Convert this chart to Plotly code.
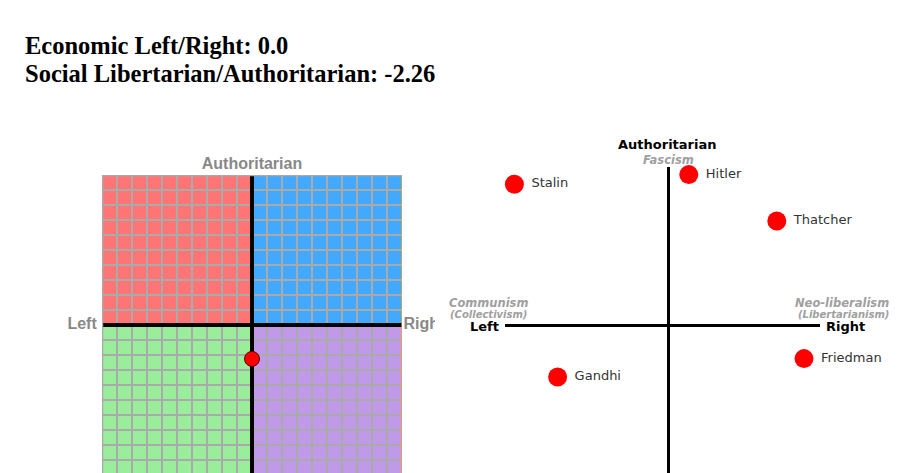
import plotly.graph_objects as go

W, H = 902, 473

# ---- data ----
econ_score = [0.0]
social_score = [-2.26]

people = ["Stalin", "Hitler", "Thatcher", "Gandhi", "Friedman"]
people_x = [-9.6, 1.3, 6.8, -6.9, 8.5]
people_y = [8.8, 9.4, 6.5, -3.25, -2.1]

title_lines = ["Economic Left/Right: 0.0", "Social Libertarian/Authoritarian: -2.26"]


def fx(px):
    return px / W


def fy(py):
    return 1 - py / H


fig = go.Figure()

# ---- left compass (grid) ----
fig.add_trace(go.Scatter(
    x=econ_score, y=social_score, mode="markers",
    marker=dict(size=15, color="#ff0000", line=dict(color="#5a0000", width=1)),
    cliponaxis=False, hoverinfo="skip", xaxis="x", yaxis="y", showlegend=False))

# ---- left labels (clipped subplot) ----
fig.add_trace(go.Scatter(
    x=[0, -11.33, 10.1], y=[10.67, 0, 0], mode="text",
    text=["Authoritarian", "Left", "Right"],
    textposition=["middle center", "middle center", "middle right"],
    textfont=dict(family="Liberation Sans", size=16, color="#888888", weight="bold"),
    cliponaxis=True, hoverinfo="skip", xaxis="x3", yaxis="y3", showlegend=False))

# ---- right chart ----
fig.add_trace(go.Scatter(
    x=people_x, y=people_y, mode="markers+text", text=people,
    texttemplate=" %{text}",
    textposition="middle right",
    textfont=dict(family="DejaVu Sans", size=13, color="#333333"),
    marker=dict(size=19, color="#ff0000", line=dict(width=0)),
    cliponaxis=False, hoverinfo="skip", xaxis="x2", yaxis="y2", showlegend=False))

quad = [
    (-10, 0, 0, 10, "#ff7575"),
    (0, 10, 0, 10, "#42a9ff"),
    (-10, 0, -10, 0, "#9aed9a"),
    (0, 10, -10, 0, "#c09ae8"),
]
shapes = []
for x0, x1, y0, y1, c in quad:
    shapes.append(dict(type="rect", xref="x", yref="y", x0=x0, x1=x1, y0=y0, y1=y1,
                       fillcolor=c, line=dict(width=0), layer="below"))
shapes.append(dict(type="line", xref="x", yref="y", x0=10, x1=10, y0=-10, y1=10,
                   line=dict(color="#ffa500", width=1.2), layer="above"))
shapes.append(dict(type="line", xref="x", yref="y", x0=-10, x1=10, y0=10, y1=10,
                   line=dict(color="#aaaaaa", width=2.5), layer="between"))
shapes.append(dict(type="line", xref="x", yref="y", x0=-10, x1=-10, y0=-10, y1=10,
                   line=dict(color="#aaaaaa", width=2.5), layer="between"))

anns = []
anns.append(dict(text="<b>" + title_lines[0] + "</b>", x=fx(23), y=fy(30), xref="paper", yref="paper",
                 xanchor="left", yanchor="top", showarrow=False,
                 font=dict(family="Liberation Serif", size=24.5, color="#000000")))
anns.append(dict(text="<b>" + title_lines[1] + "</b>", x=fx(23), y=fy(58), xref="paper", yref="paper",
                 xanchor="left", yanchor="top", showarrow=False,
                 font=dict(family="Liberation Serif", size=24.5, color="#000000")))


def lab(text, px, py, size, color, bold=False, italic=False, family="DejaVu Sans"):
    t = text
    if bold:
        t = "<b>" + t + "</b>"
    if italic:
        t = "<i>" + t + "</i>"
    anns.append(dict(text=t, x=fx(px), y=fy(py), xref="paper", yref="paper",
                     xanchor="center", yanchor="middle", showarrow=False,
                     font=dict(family=family, size=size, color=color)))


lab("Authoritarian", 667, 145, 13, "#000000", bold=True)
lab("Fascism", 668, 160, 11.5, "#a0a0a0", bold=True, italic=True)
lab("Left", 484, 326, 13, "#000000", bold=True)
lab("Communism", 488, 303, 11.5, "#a0a0a0", bold=True, italic=True)
lab("(Collectivism)", 488, 314, 10, "#a0a0a0", bold=True, italic=True)
lab("Right", 845, 326, 13, "#000000", bold=True)
lab("Neo-liberalism", 842, 303, 11.5, "#a0a0a0", bold=True, italic=True)
lab("(Libertarianism)", 843, 314, 10, "#a0a0a0", bold=True, italic=True)

fig.update_layout(
    width=W, height=H, margin=dict(l=0, r=0, t=0, b=0),
    paper_bgcolor="white", plot_bgcolor="rgba(0,0,0,0)",
    shapes=shapes, annotations=anns,
    xaxis=dict(domain=[fx(102), fx(402)], range=[-10, 10], dtick=1, tick0=0,
               showgrid=True, gridcolor="#aaaaaa", gridwidth=2,
               zeroline=True, zerolinecolor="#000000", zerolinewidth=3.5,
               showticklabels=False, ticks="", showline=False, fixedrange=True),
    yaxis=dict(domain=[fy(473), fy(175)], range=[-(473 - 325) / 15, 10], dtick=1, tick0=0,
               showgrid=True, gridcolor="#aaaaaa", gridwidth=2,
               zeroline=True, zerolinecolor="#000000", zerolinewidth=3.5,
               showticklabels=False, ticks="", showline=False, fixedrange=True),
    xaxis3=dict(domain=[fx(60), fx(435)], range=[-12.8, 12.2], visible=False, fixedrange=True),
    yaxis3=dict(domain=[fy(473), fy(150)], range=[-(473 - 325) / 15, (325 - 150) / 15],
                visible=False, fixedrange=True),
    xaxis2=dict(domain=[fx(505), fx(820)], range=[(505 - 668) / 16, (820 - 668) / 16],
                showgrid=False, zeroline=True, zerolinecolor="#000000", zerolinewidth=2.5,
                showticklabels=False, ticks="", showline=False, fixedrange=True),
    yaxis2=dict(domain=[fy(473), fy(167)], range=[-(473 - 325) / 16, (325 - 167) / 16],
                showgrid=False, zeroline=True, zerolinecolor="#000000", zerolinewidth=2.5,
                showticklabels=False, ticks="", showline=False, fixedrange=True),
)

fig.write_html("out.html", config={"displayModeBar": False},
               post_script="document.body.style.margin='0';document.body.style.overflow='hidden';")
